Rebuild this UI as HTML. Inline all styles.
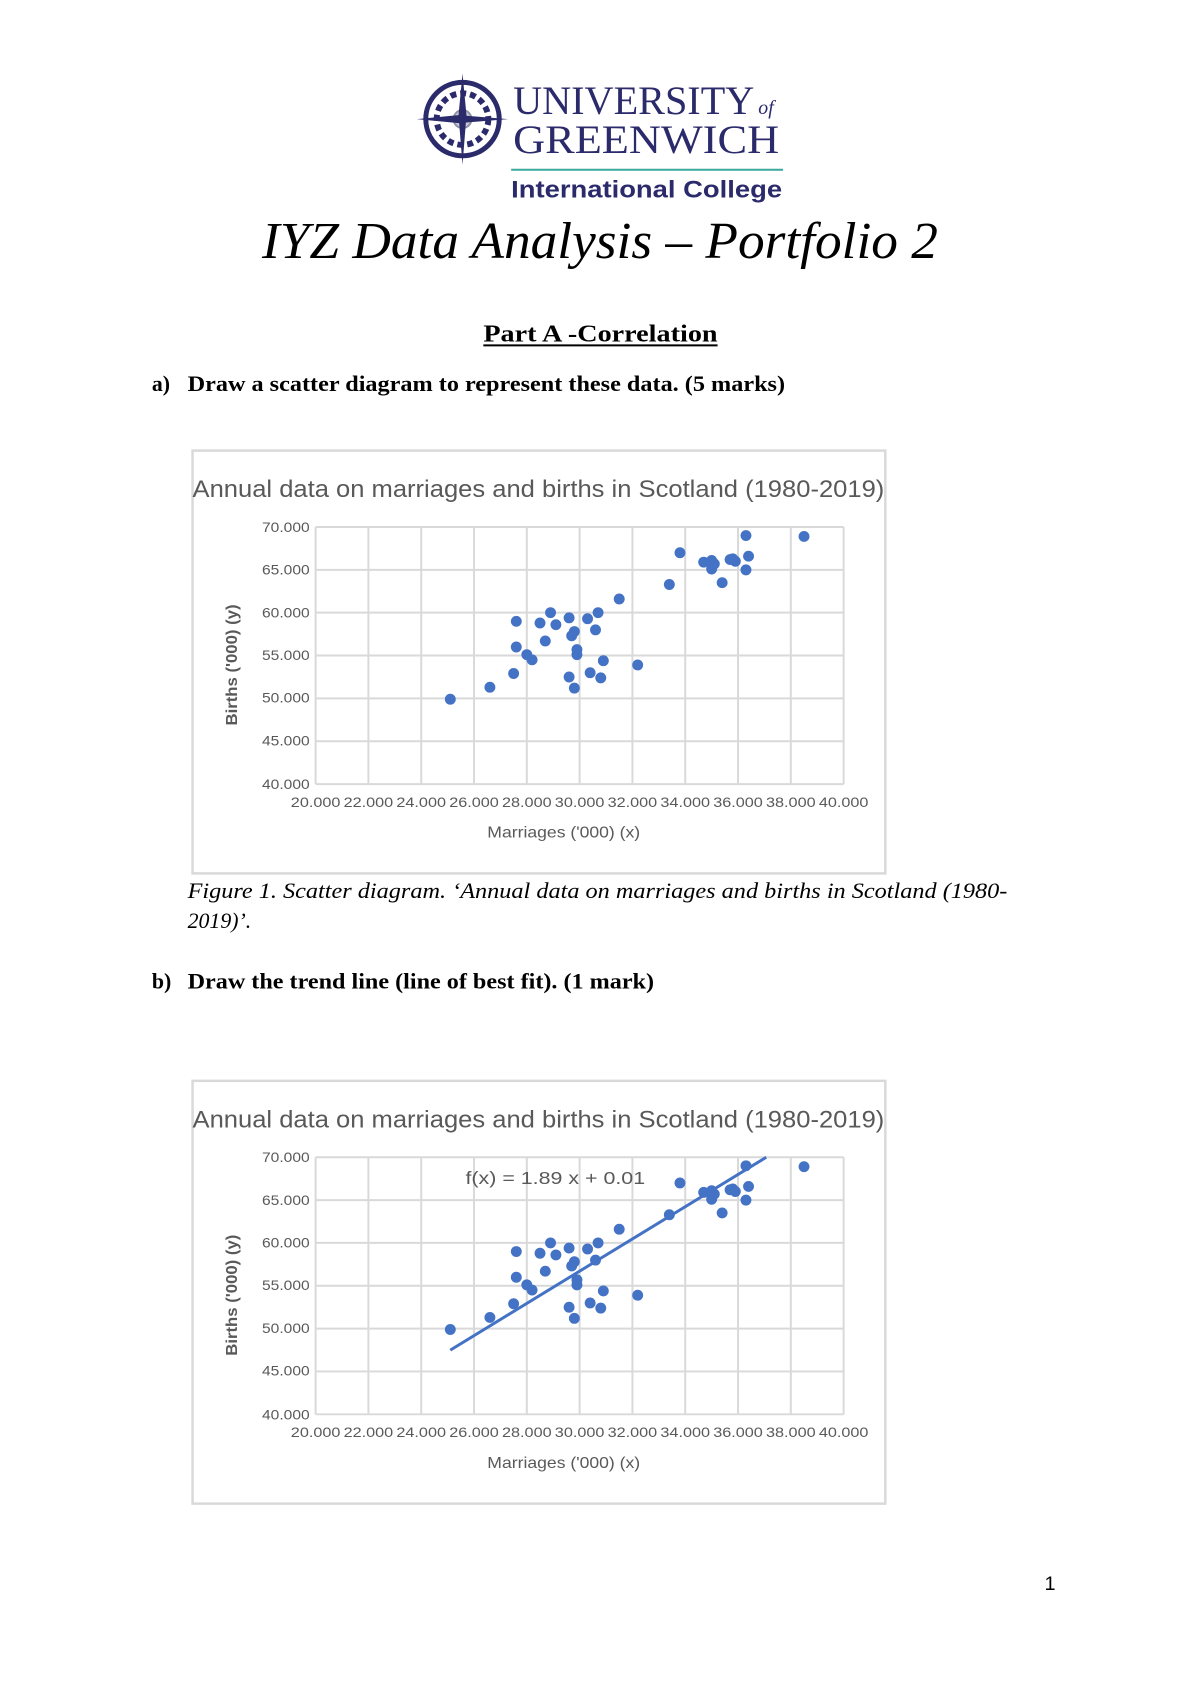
<!DOCTYPE html>
<html><head><meta charset="utf-8"><style>
html,body{margin:0;padding:0;background:#fff;}
svg{display:block;}
</style></head><body>
<svg width="1200" height="1698" viewBox="0 0 1200 1698" xmlns="http://www.w3.org/2000/svg">
<defs>
<g id="chart">
  <rect x="194" y="454" width="698" height="426" fill="#fff" stroke="#d9d9d9" stroke-width="2.5"/>
  <text x="194" y="501" font-family="Liberation Sans, sans-serif" font-size="24" fill="#595959" textLength="697" lengthAdjust="spacingAndGlyphs">Annual data on marriages and births in Scotland (1980-2019)</text>
  <g stroke="#d9d9d9" stroke-width="2">
    <line x1="318" y1="531" x2="850" y2="531"/><line x1="318" y1="574.2" x2="850" y2="574.2"/>
    <line x1="318" y1="617.3" x2="850" y2="617.3"/><line x1="318" y1="660.5" x2="850" y2="660.5"/>
    <line x1="318" y1="703.7" x2="850" y2="703.7"/><line x1="318" y1="746.8" x2="850" y2="746.8"/>
    <line x1="318" y1="790" x2="850" y2="790"/>
    <line x1="318" y1="531" x2="318" y2="790"/><line x1="371.2" y1="531" x2="371.2" y2="790"/>
    <line x1="424.4" y1="531" x2="424.4" y2="790"/><line x1="477.6" y1="531" x2="477.6" y2="790"/>
    <line x1="530.8" y1="531" x2="530.8" y2="790"/><line x1="584" y1="531" x2="584" y2="790"/>
    <line x1="637.2" y1="531" x2="637.2" y2="790"/><line x1="690.4" y1="531" x2="690.4" y2="790"/>
    <line x1="743.6" y1="531" x2="743.6" y2="790"/><line x1="796.8" y1="531" x2="796.8" y2="790"/>
    <line x1="850" y1="531" x2="850" y2="790"/>
  </g>
  <g font-family="Liberation Sans, sans-serif" font-size="14" fill="#595959" text-anchor="end">
    <text x="312" y="536" textLength="48" lengthAdjust="spacingAndGlyphs">70.000</text>
    <text x="312" y="579" textLength="48" lengthAdjust="spacingAndGlyphs">65.000</text>
    <text x="312" y="622" textLength="48" lengthAdjust="spacingAndGlyphs">60.000</text>
    <text x="312" y="665" textLength="48" lengthAdjust="spacingAndGlyphs">55.000</text>
    <text x="312" y="708" textLength="48" lengthAdjust="spacingAndGlyphs">50.000</text>
    <text x="312" y="751" textLength="48" lengthAdjust="spacingAndGlyphs">45.000</text>
    <text x="312" y="795" textLength="48" lengthAdjust="spacingAndGlyphs">40.000</text>
  </g>
  <g font-family="Liberation Sans, sans-serif" font-size="14" fill="#595959" text-anchor="middle">
    <text x="318" y="813" textLength="50" lengthAdjust="spacingAndGlyphs">20.000</text>
    <text x="371.2" y="813" textLength="50" lengthAdjust="spacingAndGlyphs">22.000</text>
    <text x="424.4" y="813" textLength="50" lengthAdjust="spacingAndGlyphs">24.000</text>
    <text x="477.6" y="813" textLength="50" lengthAdjust="spacingAndGlyphs">26.000</text>
    <text x="530.8" y="813" textLength="50" lengthAdjust="spacingAndGlyphs">28.000</text>
    <text x="584" y="813" textLength="50" lengthAdjust="spacingAndGlyphs">30.000</text>
    <text x="637.2" y="813" textLength="50" lengthAdjust="spacingAndGlyphs">32.000</text>
    <text x="690.4" y="813" textLength="50" lengthAdjust="spacingAndGlyphs">34.000</text>
    <text x="743.6" y="813" textLength="50" lengthAdjust="spacingAndGlyphs">36.000</text>
    <text x="796.8" y="813" textLength="50" lengthAdjust="spacingAndGlyphs">38.000</text>
    <text x="850" y="813" textLength="50" lengthAdjust="spacingAndGlyphs">40.000</text>
  </g>
  <text x="568" y="844" font-family="Liberation Sans, sans-serif" font-size="16" fill="#595959" text-anchor="middle" textLength="154" lengthAdjust="spacingAndGlyphs">Marriages ('000) (x)</text>
  <text transform="translate(239,670) rotate(-90)" font-family="Liberation Sans, sans-serif" font-size="16" font-weight="bold" fill="#595959" text-anchor="middle" textLength="122" lengthAdjust="spacingAndGlyphs">Births ('000) (y)</text>
  <g fill="#4472C4">
    <circle cx="453.7" cy="704.5" r="5.5"/><circle cx="493.6" cy="692.4" r="5.5"/>
    <circle cx="517.5" cy="678.6" r="5.5"/><circle cx="520.2" cy="651.9" r="5.5"/>
    <circle cx="520.2" cy="626" r="5.5"/><circle cx="530.8" cy="659.6" r="5.5"/>
    <circle cx="536.1" cy="664.8" r="5.5"/><circle cx="544.1" cy="627.7" r="5.5"/>
    <circle cx="549.4" cy="645.8" r="5.5"/><circle cx="554.7" cy="617.3" r="5.5"/>
    <circle cx="560.1" cy="629.4" r="5.5"/><circle cx="573.4" cy="622.5" r="5.5"/>
    <circle cx="573.4" cy="682.1" r="5.5"/><circle cx="576" cy="640.6" r="5.5"/>
    <circle cx="578.7" cy="636.3" r="5.5"/><circle cx="578.7" cy="693.3" r="5.5"/>
    <circle cx="581.3" cy="654.5" r="5.5"/><circle cx="581.3" cy="659.6" r="5.5"/>
    <circle cx="592" cy="623.4" r="5.5"/><circle cx="594.6" cy="677.8" r="5.5"/>
    <circle cx="600" cy="634.6" r="5.5"/><circle cx="602.6" cy="617.3" r="5.5"/>
    <circle cx="605.3" cy="683" r="5.5"/><circle cx="607.9" cy="665.7" r="5.5"/>
    <circle cx="623.9" cy="603.5" r="5.5"/><circle cx="642.5" cy="670" r="5.5"/>
    <circle cx="674.4" cy="588.9" r="5.5"/><circle cx="685.1" cy="556.9" r="5.5"/>
    <circle cx="709" cy="566.4" r="5.5"/><circle cx="717" cy="564.7" r="5.5"/>
    <circle cx="717" cy="573.3" r="5.5"/><circle cx="719.7" cy="568.1" r="5.5"/>
    <circle cx="727.6" cy="587.1" r="5.5"/><circle cx="735.6" cy="563.8" r="5.5"/>
    <circle cx="740.9" cy="565.5" r="5.5"/><circle cx="738.3" cy="563" r="5.5"/>
    <circle cx="751.6" cy="539.6" r="5.5"/><circle cx="751.6" cy="574.2" r="5.5"/>
    <circle cx="754.2" cy="560.4" r="5.5"/><circle cx="810.1" cy="540.5" r="5.5"/>
  </g>
</g>
</defs>

<g transform="scale(0.9925)">
<!-- Logo -->
<g>
  <circle cx="466" cy="120" r="37" fill="none" stroke="#2b2a6b" stroke-width="5"/>
  <circle cx="466" cy="120" r="26" fill="none" stroke="#2b2a6b" stroke-width="6" stroke-dasharray="6 4"/>
  <circle cx="466" cy="120" r="9" fill="#c9c9d2" stroke="#8f8fa8" stroke-width="2"/>
  <polygon points="466,74 470,116 466,166 462,116" fill="#2b2a6b"/>
  <polygon points="420,120 462,116 512,120 462,124" fill="#2b2a6b"/>
  <text x="517" y="115" font-family="Liberation Serif, serif" font-size="40" fill="#2b2a6b" textLength="243" lengthAdjust="spacingAndGlyphs">UNIVERSITY</text>
  <text x="764" y="115" font-family="Liberation Serif, serif" font-style="italic" font-size="20" fill="#2b2a6b">of</text>
  <text x="517" y="154" font-family="Liberation Serif, serif" font-size="40" fill="#2b2a6b" textLength="268" lengthAdjust="spacingAndGlyphs">GREENWICH</text>
  <line x1="515" y1="171" x2="789" y2="171" stroke="#3aa89a" stroke-width="2"/>
  <text x="515" y="199" font-family="Liberation Sans, sans-serif" font-weight="bold" font-size="24" fill="#2b2a6b" textLength="273" lengthAdjust="spacingAndGlyphs">International College</text>
</g>

<text x="264" y="260" font-family="Liberation Serif, serif" font-style="italic" font-size="52" fill="#000" textLength="681" lengthAdjust="spacingAndGlyphs">IYZ Data Analysis – Portfolio 2</text>

<text x="487" y="344" font-family="Liberation Serif, serif" font-weight="bold" font-size="24" fill="#000" textLength="236" lengthAdjust="spacingAndGlyphs">Part A -Correlation</text>
<line x1="487" y1="348" x2="723" y2="348" stroke="#000" stroke-width="2"/>

<text x="153" y="394" font-family="Liberation Serif, serif" font-weight="bold" font-size="22" fill="#000">a)</text>
<text x="189" y="394" font-family="Liberation Serif, serif" font-weight="bold" font-size="22" fill="#000" textLength="602" lengthAdjust="spacingAndGlyphs">Draw a scatter diagram to represent these data. (5 marks)</text>

<use href="#chart"/>

<text x="189" y="905" font-family="Liberation Serif, serif" font-style="italic" font-size="22" fill="#000" textLength="826" lengthAdjust="spacingAndGlyphs">Figure 1. Scatter diagram. ‘Annual data on marriages and births in Scotland (1980-</text>
<text x="189" y="935" font-family="Liberation Serif, serif" font-style="italic" font-size="22" fill="#000">2019)’.</text>

<text x="153" y="996" font-family="Liberation Serif, serif" font-weight="bold" font-size="22" fill="#000">b)</text>
<text x="189" y="996" font-family="Liberation Serif, serif" font-weight="bold" font-size="22" fill="#000" textLength="470" lengthAdjust="spacingAndGlyphs">Draw the trend line (line of best fit). (1 mark)</text>

<g transform="translate(0,635)">
  <use href="#chart"/>
  <line x1="453.7" y1="725.3" x2="772" y2="531" stroke="#4472C4" stroke-width="3"/>
  <text x="469" y="558" font-family="Liberation Sans, sans-serif" font-size="18" fill="#595959" textLength="181" lengthAdjust="spacingAndGlyphs">f(x) = 1.89 x + 0.01</text>
</g>

<text x="1058" y="1602" font-family="Liberation Sans, sans-serif" font-size="20" fill="#000" text-anchor="middle">1</text>
</g>
</svg>
</body></html>
